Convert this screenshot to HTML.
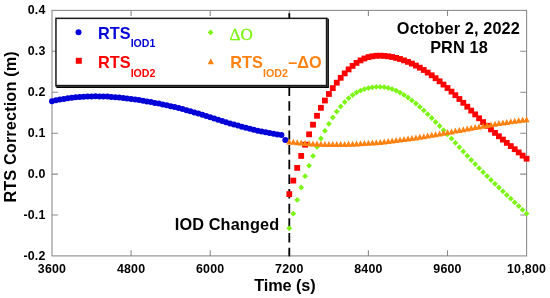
<!DOCTYPE html>
<html><head><meta charset="utf-8"><title>RTS Correction</title>
<style>html,body{margin:0;padding:0;background:#fff}svg{display:block}</style></head>
<body>
<svg width="550" height="298" viewBox="0 0 550 298">
<rect width="550" height="298" fill="#fff"/>
<g stroke="#8c8c8c" stroke-width="1.1" fill="none">
<rect x="52.0" y="10.4" width="474.6" height="245.5"/>
<path d="M131.1 10.4v5.6M131.1 255.9v-5.6M210.2 10.4v5.6M210.2 255.9v-5.6M289.3 10.4v5.6M289.3 255.9v-5.6M368.4 10.4v5.6M368.4 255.9v-5.6M447.5 10.4v5.6M447.5 255.9v-5.6M52.0 51.3h5.9M526.6 51.3h-6.4M52.0 92.2h5.9M526.6 92.2h-6.4M52.0 133.2h5.9M526.6 133.2h-6.4M52.0 174.1h5.9M526.6 174.1h-6.4M52.0 215.0h5.9M526.6 215.0h-6.4"/>
</g>
<line x1="289.3" y1="10.4" x2="289.3" y2="256.4" stroke="#000" stroke-width="1.8" stroke-dasharray="9.5 5.15" stroke-dashoffset="11.8"/>
<g fill="#0202d8"><circle cx="52.0" cy="101.2" r="3"/><circle cx="56.0" cy="100.3" r="3"/><circle cx="59.9" cy="99.5" r="3"/><circle cx="63.9" cy="98.9" r="3"/><circle cx="67.8" cy="98.3" r="3"/><circle cx="71.8" cy="97.7" r="3"/><circle cx="75.7" cy="97.3" r="3"/><circle cx="79.7" cy="97.0" r="3"/><circle cx="83.6" cy="96.7" r="3"/><circle cx="87.6" cy="96.5" r="3"/><circle cx="91.5" cy="96.4" r="3"/><circle cx="95.5" cy="96.3" r="3"/><circle cx="99.5" cy="96.4" r="3"/><circle cx="103.4" cy="96.5" r="3"/><circle cx="107.4" cy="96.6" r="3"/><circle cx="111.3" cy="96.9" r="3"/><circle cx="115.3" cy="97.2" r="3"/><circle cx="119.2" cy="97.5" r="3"/><circle cx="123.2" cy="97.9" r="3"/><circle cx="127.1" cy="98.4" r="3"/><circle cx="131.1" cy="98.9" r="3"/><circle cx="135.1" cy="99.5" r="3"/><circle cx="139.0" cy="100.1" r="3"/><circle cx="143.0" cy="100.7" r="3"/><circle cx="146.9" cy="101.4" r="3"/><circle cx="150.9" cy="102.1" r="3"/><circle cx="154.8" cy="102.9" r="3"/><circle cx="158.8" cy="103.6" r="3"/><circle cx="162.7" cy="104.4" r="3"/><circle cx="166.7" cy="105.3" r="3"/><circle cx="170.7" cy="106.2" r="3"/><circle cx="174.6" cy="107.1" r="3"/><circle cx="178.6" cy="108.1" r="3"/><circle cx="182.5" cy="109.1" r="3"/><circle cx="186.5" cy="110.2" r="3"/><circle cx="190.4" cy="111.3" r="3"/><circle cx="194.4" cy="112.4" r="3"/><circle cx="198.3" cy="113.6" r="3"/><circle cx="202.3" cy="114.8" r="3"/><circle cx="206.2" cy="116.0" r="3"/><circle cx="210.2" cy="117.3" r="3"/><circle cx="214.2" cy="118.5" r="3"/><circle cx="218.1" cy="119.7" r="3"/><circle cx="222.1" cy="121.0" r="3"/><circle cx="226.0" cy="122.2" r="3"/><circle cx="230.0" cy="123.4" r="3"/><circle cx="233.9" cy="124.5" r="3"/><circle cx="237.9" cy="125.6" r="3"/><circle cx="241.8" cy="126.7" r="3"/><circle cx="245.8" cy="127.8" r="3"/><circle cx="249.8" cy="128.8" r="3"/><circle cx="253.7" cy="129.8" r="3"/><circle cx="257.7" cy="130.7" r="3"/><circle cx="261.6" cy="131.5" r="3"/><circle cx="265.6" cy="132.3" r="3"/><circle cx="269.5" cy="133.1" r="3"/><circle cx="273.5" cy="133.8" r="3"/><circle cx="277.4" cy="134.4" r="3"/><circle cx="281.4" cy="135.0" r="3"/><circle cx="285.3" cy="140.0" r="3"/></g>
<g fill="#ff0000"><rect x="286.4" y="191.2" width="5.8" height="5.8"/><rect x="290.4" y="177.7" width="5.8" height="5.8"/><rect x="294.3" y="165.0" width="5.8" height="5.8"/><rect x="298.3" y="153.0" width="5.8" height="5.8"/><rect x="302.2" y="141.8" width="5.8" height="5.8"/><rect x="306.2" y="131.4" width="5.8" height="5.8"/><rect x="310.1" y="121.8" width="5.8" height="5.8"/><rect x="314.1" y="112.9" width="5.8" height="5.8"/><rect x="318.0" y="104.9" width="5.8" height="5.8"/><rect x="322.0" y="97.6" width="5.8" height="5.8"/><rect x="326.0" y="91.1" width="5.8" height="5.8"/><rect x="329.9" y="85.2" width="5.8" height="5.8"/><rect x="333.9" y="79.8" width="5.8" height="5.8"/><rect x="337.8" y="74.9" width="5.8" height="5.8"/><rect x="341.8" y="70.5" width="5.8" height="5.8"/><rect x="345.7" y="66.5" width="5.8" height="5.8"/><rect x="349.7" y="63.0" width="5.8" height="5.8"/><rect x="353.6" y="60.0" width="5.8" height="5.8"/><rect x="357.6" y="57.5" width="5.8" height="5.8"/><rect x="361.5" y="55.6" width="5.8" height="5.8"/><rect x="365.5" y="54.2" width="5.8" height="5.8"/><rect x="369.5" y="53.4" width="5.8" height="5.8"/><rect x="373.4" y="52.9" width="5.8" height="5.8"/><rect x="377.4" y="52.8" width="5.8" height="5.8"/><rect x="381.3" y="53.0" width="5.8" height="5.8"/><rect x="385.3" y="53.4" width="5.8" height="5.8"/><rect x="389.2" y="54.1" width="5.8" height="5.8"/><rect x="393.2" y="55.0" width="5.8" height="5.8"/><rect x="397.1" y="56.1" width="5.8" height="5.8"/><rect x="401.1" y="57.5" width="5.8" height="5.8"/><rect x="405.1" y="59.0" width="5.8" height="5.8"/><rect x="409.0" y="60.7" width="5.8" height="5.8"/><rect x="413.0" y="62.7" width="5.8" height="5.8"/><rect x="416.9" y="64.8" width="5.8" height="5.8"/><rect x="420.9" y="67.1" width="5.8" height="5.8"/><rect x="424.8" y="69.7" width="5.8" height="5.8"/><rect x="428.8" y="72.4" width="5.8" height="5.8"/><rect x="432.7" y="75.3" width="5.8" height="5.8"/><rect x="436.7" y="78.4" width="5.8" height="5.8"/><rect x="440.6" y="81.7" width="5.8" height="5.8"/><rect x="444.6" y="85.1" width="5.8" height="5.8"/><rect x="448.6" y="88.7" width="5.8" height="5.8"/><rect x="452.5" y="92.3" width="5.8" height="5.8"/><rect x="456.5" y="96.1" width="5.8" height="5.8"/><rect x="460.4" y="99.9" width="5.8" height="5.8"/><rect x="464.4" y="103.8" width="5.8" height="5.8"/><rect x="468.3" y="107.7" width="5.8" height="5.8"/><rect x="472.3" y="111.5" width="5.8" height="5.8"/><rect x="476.2" y="115.4" width="5.8" height="5.8"/><rect x="480.2" y="119.2" width="5.8" height="5.8"/><rect x="484.2" y="122.9" width="5.8" height="5.8"/><rect x="488.1" y="126.5" width="5.8" height="5.8"/><rect x="492.1" y="130.0" width="5.8" height="5.8"/><rect x="496.0" y="133.4" width="5.8" height="5.8"/><rect x="500.0" y="136.7" width="5.8" height="5.8"/><rect x="503.9" y="140.0" width="5.8" height="5.8"/><rect x="507.9" y="143.2" width="5.8" height="5.8"/><rect x="511.8" y="146.3" width="5.8" height="5.8"/><rect x="515.8" y="149.5" width="5.8" height="5.8"/><rect x="519.7" y="152.7" width="5.8" height="5.8"/><rect x="523.7" y="155.8" width="5.8" height="5.8"/></g>
<g fill="#7cf514"><path d="M289.3 225.4l2.9 2.9l-2.9 2.9l-2.9 -2.9z"/><path d="M293.3 210.8l2.9 2.9l-2.9 2.9l-2.9 -2.9z"/><path d="M297.2 197.0l2.9 2.9l-2.9 2.9l-2.9 -2.9z"/><path d="M301.2 184.6l2.9 2.9l-2.9 2.9l-2.9 -2.9z"/><path d="M305.1 173.3l2.9 2.9l-2.9 2.9l-2.9 -2.9z"/><path d="M309.1 162.8l2.9 2.9l-2.9 2.9l-2.9 -2.9z"/><path d="M313.0 153.0l2.9 2.9l-2.9 2.9l-2.9 -2.9z"/><path d="M317.0 144.0l2.9 2.9l-2.9 2.9l-2.9 -2.9z"/><path d="M320.9 135.6l2.9 2.9l-2.9 2.9l-2.9 -2.9z"/><path d="M324.9 127.9l2.9 2.9l-2.9 2.9l-2.9 -2.9z"/><path d="M328.9 120.9l2.9 2.9l-2.9 2.9l-2.9 -2.9z"/><path d="M332.8 114.5l2.9 2.9l-2.9 2.9l-2.9 -2.9z"/><path d="M336.8 108.7l2.9 2.9l-2.9 2.9l-2.9 -2.9z"/><path d="M340.7 103.6l2.9 2.9l-2.9 2.9l-2.9 -2.9z"/><path d="M344.7 99.2l2.9 2.9l-2.9 2.9l-2.9 -2.9z"/><path d="M348.6 95.3l2.9 2.9l-2.9 2.9l-2.9 -2.9z"/><path d="M352.6 92.2l2.9 2.9l-2.9 2.9l-2.9 -2.9z"/><path d="M356.5 89.6l2.9 2.9l-2.9 2.9l-2.9 -2.9z"/><path d="M360.5 87.7l2.9 2.9l-2.9 2.9l-2.9 -2.9z"/><path d="M364.4 86.2l2.9 2.9l-2.9 2.9l-2.9 -2.9z"/><path d="M368.4 85.2l2.9 2.9l-2.9 2.9l-2.9 -2.9z"/><path d="M372.4 84.4l2.9 2.9l-2.9 2.9l-2.9 -2.9z"/><path d="M376.3 84.0l2.9 2.9l-2.9 2.9l-2.9 -2.9z"/><path d="M380.3 84.0l2.9 2.9l-2.9 2.9l-2.9 -2.9z"/><path d="M384.2 84.3l2.9 2.9l-2.9 2.9l-2.9 -2.9z"/><path d="M388.2 85.0l2.9 2.9l-2.9 2.9l-2.9 -2.9z"/><path d="M392.1 86.2l2.9 2.9l-2.9 2.9l-2.9 -2.9z"/><path d="M396.1 87.7l2.9 2.9l-2.9 2.9l-2.9 -2.9z"/><path d="M400.0 89.7l2.9 2.9l-2.9 2.9l-2.9 -2.9z"/><path d="M404.0 92.0l2.9 2.9l-2.9 2.9l-2.9 -2.9z"/><path d="M408.0 94.6l2.9 2.9l-2.9 2.9l-2.9 -2.9z"/><path d="M411.9 97.5l2.9 2.9l-2.9 2.9l-2.9 -2.9z"/><path d="M415.9 100.6l2.9 2.9l-2.9 2.9l-2.9 -2.9z"/><path d="M419.8 104.0l2.9 2.9l-2.9 2.9l-2.9 -2.9z"/><path d="M423.8 107.5l2.9 2.9l-2.9 2.9l-2.9 -2.9z"/><path d="M427.7 111.3l2.9 2.9l-2.9 2.9l-2.9 -2.9z"/><path d="M431.7 115.1l2.9 2.9l-2.9 2.9l-2.9 -2.9z"/><path d="M435.6 119.1l2.9 2.9l-2.9 2.9l-2.9 -2.9z"/><path d="M439.6 123.1l2.9 2.9l-2.9 2.9l-2.9 -2.9z"/><path d="M443.5 127.3l2.9 2.9l-2.9 2.9l-2.9 -2.9z"/><path d="M447.5 131.5l2.9 2.9l-2.9 2.9l-2.9 -2.9z"/><path d="M451.5 135.7l2.9 2.9l-2.9 2.9l-2.9 -2.9z"/><path d="M455.4 140.0l2.9 2.9l-2.9 2.9l-2.9 -2.9z"/><path d="M459.4 144.3l2.9 2.9l-2.9 2.9l-2.9 -2.9z"/><path d="M463.3 148.6l2.9 2.9l-2.9 2.9l-2.9 -2.9z"/><path d="M467.3 152.9l2.9 2.9l-2.9 2.9l-2.9 -2.9z"/><path d="M471.2 157.1l2.9 2.9l-2.9 2.9l-2.9 -2.9z"/><path d="M475.2 161.2l2.9 2.9l-2.9 2.9l-2.9 -2.9z"/><path d="M479.1 165.3l2.9 2.9l-2.9 2.9l-2.9 -2.9z"/><path d="M483.1 169.3l2.9 2.9l-2.9 2.9l-2.9 -2.9z"/><path d="M487.1 173.2l2.9 2.9l-2.9 2.9l-2.9 -2.9z"/><path d="M491.0 177.1l2.9 2.9l-2.9 2.9l-2.9 -2.9z"/><path d="M495.0 180.9l2.9 2.9l-2.9 2.9l-2.9 -2.9z"/><path d="M498.9 184.6l2.9 2.9l-2.9 2.9l-2.9 -2.9z"/><path d="M502.9 188.4l2.9 2.9l-2.9 2.9l-2.9 -2.9z"/><path d="M506.8 192.1l2.9 2.9l-2.9 2.9l-2.9 -2.9z"/><path d="M510.8 195.8l2.9 2.9l-2.9 2.9l-2.9 -2.9z"/><path d="M514.7 199.5l2.9 2.9l-2.9 2.9l-2.9 -2.9z"/><path d="M518.7 203.2l2.9 2.9l-2.9 2.9l-2.9 -2.9z"/><path d="M522.6 206.9l2.9 2.9l-2.9 2.9l-2.9 -2.9z"/><path d="M526.6 210.7l2.9 2.9l-2.9 2.9l-2.9 -2.9z"/></g>
<g fill="#ff8212"><path d="M289.3 138.4l3.1 6h-6.2z"/><path d="M293.3 138.8l3.1 6h-6.2z"/><path d="M297.2 139.2l3.1 6h-6.2z"/><path d="M301.2 139.6l3.1 6h-6.2z"/><path d="M305.1 139.9l3.1 6h-6.2z"/><path d="M309.1 140.2l3.1 6h-6.2z"/><path d="M313.0 140.4l3.1 6h-6.2z"/><path d="M317.0 140.6l3.1 6h-6.2z"/><path d="M320.9 140.8l3.1 6h-6.2z"/><path d="M324.9 140.9l3.1 6h-6.2z"/><path d="M328.9 141.0l3.1 6h-6.2z"/><path d="M332.8 141.0l3.1 6h-6.2z"/><path d="M336.8 141.0l3.1 6h-6.2z"/><path d="M340.7 141.0l3.1 6h-6.2z"/><path d="M344.7 140.9l3.1 6h-6.2z"/><path d="M348.6 140.8l3.1 6h-6.2z"/><path d="M352.6 140.7l3.1 6h-6.2z"/><path d="M356.5 140.5l3.1 6h-6.2z"/><path d="M360.5 140.3l3.1 6h-6.2z"/><path d="M364.4 140.1l3.1 6h-6.2z"/><path d="M368.4 139.8l3.1 6h-6.2z"/><path d="M372.4 139.5l3.1 6h-6.2z"/><path d="M376.3 139.2l3.1 6h-6.2z"/><path d="M380.3 138.9l3.1 6h-6.2z"/><path d="M384.2 138.5l3.1 6h-6.2z"/><path d="M388.2 138.1l3.1 6h-6.2z"/><path d="M392.1 137.6l3.1 6h-6.2z"/><path d="M396.1 137.1l3.1 6h-6.2z"/><path d="M400.0 136.6l3.1 6h-6.2z"/><path d="M404.0 136.1l3.1 6h-6.2z"/><path d="M408.0 135.6l3.1 6h-6.2z"/><path d="M411.9 135.0l3.1 6h-6.2z"/><path d="M415.9 134.4l3.1 6h-6.2z"/><path d="M419.8 133.8l3.1 6h-6.2z"/><path d="M423.8 133.2l3.1 6h-6.2z"/><path d="M427.7 132.5l3.1 6h-6.2z"/><path d="M431.7 131.8l3.1 6h-6.2z"/><path d="M435.6 131.2l3.1 6h-6.2z"/><path d="M439.6 130.5l3.1 6h-6.2z"/><path d="M443.5 129.8l3.1 6h-6.2z"/><path d="M447.5 129.1l3.1 6h-6.2z"/><path d="M451.5 128.4l3.1 6h-6.2z"/><path d="M455.4 127.6l3.1 6h-6.2z"/><path d="M459.4 126.9l3.1 6h-6.2z"/><path d="M463.3 126.2l3.1 6h-6.2z"/><path d="M467.3 125.5l3.1 6h-6.2z"/><path d="M471.2 124.8l3.1 6h-6.2z"/><path d="M475.2 124.1l3.1 6h-6.2z"/><path d="M479.1 123.4l3.1 6h-6.2z"/><path d="M483.1 122.7l3.1 6h-6.2z"/><path d="M487.1 122.0l3.1 6h-6.2z"/><path d="M491.0 121.4l3.1 6h-6.2z"/><path d="M495.0 120.7l3.1 6h-6.2z"/><path d="M498.9 120.1l3.1 6h-6.2z"/><path d="M502.9 119.5l3.1 6h-6.2z"/><path d="M506.8 118.9l3.1 6h-6.2z"/><path d="M510.8 118.3l3.1 6h-6.2z"/><path d="M514.7 117.8l3.1 6h-6.2z"/><path d="M518.7 117.2l3.1 6h-6.2z"/><path d="M522.6 116.7l3.1 6h-6.2z"/><path d="M526.6 116.3l3.1 6h-6.2z"/></g>
<path d="M327.3 17.6L328.9 19.2V88.1H56.8L55.2 86.3H327.3z" fill="#000"/>
<rect x="55.95" y="18.35" width="270.6" height="67.2" fill="#fff" stroke="#1a1a1a" stroke-width="1.5"/>
<circle cx="78.5" cy="32.2" r="3" fill="#0202d8"/>
<rect x="75.8" y="57.8" width="6" height="6" fill="#ff0000"/>
<path d="M210.6 29.5l2.9 2.9l-2.9 2.9l-2.9 -2.9z" fill="#7cf514"/>
<path d="M210.8 58.2l3.1 6h-6.2z" fill="#ff8212"/>
<g font-family="'Liberation Sans', Arial, sans-serif" font-weight="bold" font-size="16.3">
<text x="98.1" y="38.8" fill="#0202d8">RTS<tspan font-size="10.6" dy="8.4">IOD1</tspan></text>
<text x="98.1" y="67.9" fill="#ff0000">RTS<tspan font-size="10.6" dy="8.7">IOD2</tspan></text>
<text x="230.2" y="68.3" fill="#ff8212">RTS<tspan font-size="10.7" dy="8.6" dx="0.3">IOD2</tspan><tspan dy="-8.6" dx="0.3">–ΔO</tspan></text>
<text x="229.6" y="40" fill="#7cf514" font-family="'Liberation Serif', serif" font-weight="normal" font-size="17" stroke="#7cf514" stroke-width="0.3">ΔO</text>
<text x="458.4" y="34.2" text-anchor="middle" fill="#000" letter-spacing="0.12">October 2, 2022</text>
<text x="459" y="52.7" text-anchor="middle" fill="#000" letter-spacing="0.12">PRN 18</text>
<text x="227" y="229.6" text-anchor="middle" fill="#000" letter-spacing="0.12">IOD Changed</text>
<text x="284.9" y="290.5" text-anchor="middle" fill="#000" letter-spacing="-0.1">Time (s)</text>
<text transform="translate(15.6 126.9) rotate(-90)" text-anchor="middle" fill="#000" letter-spacing="0.12">RTS Correction (m)</text>
</g>
<g font-family="'Liberation Sans', Arial, sans-serif" font-weight="bold" font-size="12.4" letter-spacing="0.2" fill="#000">
<text x="45.6" y="14.2" text-anchor="end">0.4</text>
<text x="45.6" y="55.1" text-anchor="end">0.3</text>
<text x="45.6" y="96.0" text-anchor="end">0.2</text>
<text x="45.6" y="137.0" text-anchor="end">0.1</text>
<text x="45.6" y="177.9" text-anchor="end">0.0</text>
<text x="45.6" y="218.8" text-anchor="end">-0.1</text>
<text x="45.6" y="259.7" text-anchor="end">-0.2</text>
<text x="52.0" y="272.8" text-anchor="middle">3600</text>
<text x="131.1" y="272.8" text-anchor="middle">4800</text>
<text x="210.2" y="272.8" text-anchor="middle">6000</text>
<text x="289.3" y="272.8" text-anchor="middle">7200</text>
<text x="368.4" y="272.8" text-anchor="middle">8400</text>
<text x="447.5" y="272.8" text-anchor="middle">9600</text>
<text x="526.6" y="272.8" text-anchor="middle">10,800</text>
</g>
</svg>
</body></html>
